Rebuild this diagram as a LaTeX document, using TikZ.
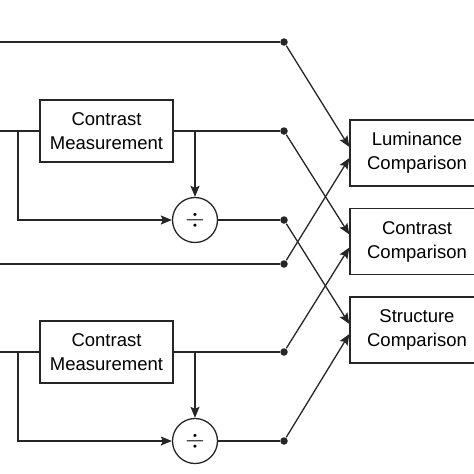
\documentclass[tikz,border=0pt]{standalone}
\usepackage{fontspec}
\setmainfont{Liberation Sans}
\usetikzlibrary{arrows.meta}
\definecolor{ink}{gray}{0.15}

\begin{document}
\begin{tikzpicture}[x = 1pt, y = -1pt, line width = 1.3pt, draw = ink,
        font = \fontsize{18.5}{24}\selectfont,
        box/.style = {draw, align = center, minimum width = 133pt, minimum height = 62pt, inner sep = 0pt},
        cmp/.style = {box, minimum width = 134pt, minimum height = 66pt},
        divider/.style = {draw, circle, minimum size = 45pt, inner sep = 0pt, font = \fontsize{27}{27}\selectfont},
        dot/.style = {circle, fill = ink, minimum size = 7.5pt, inner sep = 0pt},
        arr/.style = {-{Stealth[length = 11pt, width = 9pt, inset = 2pt]}}]
        \useasboundingbox (0,0) rectangle (474,474);

        \coordinate (I1) at (0,42);
        \coordinate (I2) at (0,131);
        \coordinate (I3) at (0,264);
        \coordinate (I4) at (0,352);
        \coordinate (B1) at (18,131);
        \coordinate (B2) at (18,352);

        \node [box] (M1) at (106.5,131) {Contrast\\Measurement};
        \node [box] (M2) at (106.5,352) {Contrast\\Measurement};
        \node [divider] (V1) at (195,220) {$\div$};
        \node [divider] (V2) at (195,441) {$\div$};

        \node [dot] (D1) at (284,42) {};
        \node [dot] (D2) at (284,131) {};
        \node [dot] (D3) at (284,220) {};
        \node [dot] (D4) at (284,264) {};
        \node [dot] (D5) at (284,352) {};
        \node [dot] (D6) at (284,441) {};

        \node [cmp] (L) at (417,153) {Luminance\\Comparison};
        \node [cmp] (C) at (417,241.5) {Contrast\\Comparison};
        \node [cmp] (S) at (417,330) {Structure\\Comparison};

        \draw (I1) -- (D1);
        \draw (I2) -- (M1.west);
        \draw (M1.east) -- (D2);
        \draw [arr] (B1) |- (V1);
        \draw [arr] (M1.east -| V1) -- (V1);
        \draw (V1) -- (D3);
        \draw (I3) -- (D4);
        \draw (I4) -- (M2.west);
        \draw (M2.east) -- (D5);
        \draw [arr] (B2) |- (V2);
        \draw [arr] (M2.east -| V2) -- (V2);
        \draw (V2) -- (D6);

        \draw [arr] (D1) -- ([yshift = 6pt]L.west);
        \draw [arr] (D4) -- ([yshift = -5pt]L.west);
        \draw [arr] (D2) -- ([yshift = 7pt]C.west);
        \draw [arr] (D5) -- ([yshift = -6pt]C.west);
        \draw [arr] (D3) -- ([yshift = 6pt]S.west);
        \draw [arr] (D6) -- ([yshift = -4pt]S.west);
\end{tikzpicture}
\end{document}
